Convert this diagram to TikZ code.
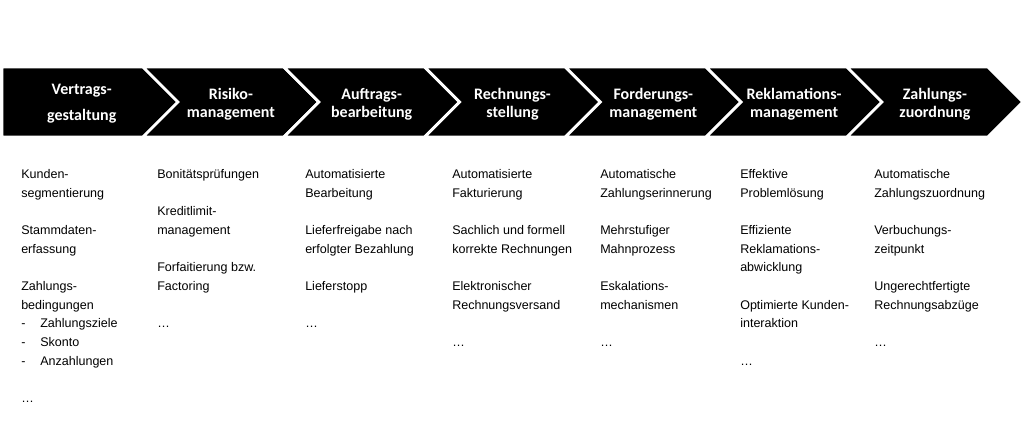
\documentclass[tikz,border=0pt]{standalone}
\usepackage{fontspec}
\setmainfont{Liberation Sans}
\newfontfamily\barfont{Carlito}
\usetikzlibrary{positioning}

\begin{document}
\begin{tikzpicture}[x=0.75pt, y=-0.75pt,
		phase/.style={fill=black, draw=white, line width=2.1pt, line join=miter},
		headtext/.style={text=white, align=center, inner sep=0pt, font=\barfont\bfseries\fontsize{12}{13.3}\selectfont},
		itemtext/.style={anchor=north west, align=left, inner sep=0pt, font=\fontsize{9.4}{14}\selectfont}]
\useasboundingbox (0,0) rectangle (1024,436);

\fill[phase] (2,67) -- (143,67) -- (178,102) -- (143,137) -- (2,137) -- cycle;
\fill[phase] (143,67) -- (283.8,67) -- (318.8,102) -- (283.8,137) -- (143,137) -- (178,102) -- cycle;
\fill[phase] (283.8,67) -- (424.6,67) -- (459.6,102) -- (424.6,137) -- (283.8,137) -- (318.8,102) -- cycle;
\fill[phase] (424.6,67) -- (565.4,67) -- (600.4,102) -- (565.4,137) -- (424.6,137) -- (459.6,102) -- cycle;
\fill[phase] (565.4,67) -- (706.2,67) -- (741.2,102) -- (706.2,137) -- (565.4,137) -- (600.4,102) -- cycle;
\fill[phase] (706.2,67) -- (847,67) -- (882,102) -- (847,137) -- (706.2,137) -- (741.2,102) -- cycle;
\fill[phase] (847,67) -- (987.8,67) -- (1022.8,102) -- (987.8,137) -- (847,137) -- (882,102) -- cycle;

\node[headtext, font=\barfont\bfseries\fontsize{12}{19.5}\selectfont] (P1) at (81.75,104) {Vertrags-\\gestaltung};
\node[headtext] (P2) at (230.9,104) {Risiko-\\management};
\node[headtext] (P3) at (371.7,104) {Auftrags-\\bearbeitung};
\node[headtext] (P4) at (512.5,104) {Rechnungs-\\stellung};
\node[headtext] (P5) at (653.3,104) {Forderungs-\\management};
\node[headtext] (P6) at (794.1,104) {Reklamations-\\management};
\node[headtext] (P7) at (934.9,104) {Zahlungs-\\zuordnung};

\node[itemtext] (T1) at (21,169) {Kunden-\\segmentierung\\[14pt]
	Stammdaten-\\erfassung\\[14pt]
	Zahlungs-\\bedingungen\\
	\makebox[14.25pt][l]{-}Zahlungsziele\\
	\makebox[14.25pt][l]{-}Skonto\\
	\makebox[14.25pt][l]{-}Anzahlungen\\[14pt]
	…};
\node[itemtext] (T2) at (157,169) {Bonitätsprüfungen\\[14pt]
	Kreditlimit-\\management\\[14pt]
	Forfaitierung bzw.\\Factoring\\[14pt]
	…};
\node[itemtext] (T3) at (305,169) {Automatisierte\\Bearbeitung\\[14pt]
	Lieferfreigabe nach\\erfolgter Bezahlung\\[14pt]
	Lieferstopp\\[14pt]
	…};
\node[itemtext] (T4) at (452,169) {Automatisierte\\Fakturierung\\[14pt]
	Sachlich und formell\\korrekte Rechnungen\\[14pt]
	Elektronischer\\Rechnungsversand\\[14pt]
	…};
\node[itemtext] (T5) at (600,169) {Automatische\\Zahlungserinnerung\\[14pt]
	Mehrstufiger\\Mahnprozess\\[14pt]
	Eskalations-\\mechanismen\\[14pt]
	…};
\node[itemtext] (T6) at (740,169) {Effektive\\Problemlösung\\[14pt]
	Effiziente\\Reklamations-\\abwicklung\\[14pt]
	Optimierte Kunden-\\interaktion\\[14pt]
	…};
\node[itemtext] (T7) at (874,169) {Automatische\\Zahlungszuordnung\\[14pt]
	Verbuchungs-\\zeitpunkt\\[14pt]
	Ungerechtfertigte\\Rechnungsabzüge\\[14pt]
	…};
\end{tikzpicture}
\end{document}
